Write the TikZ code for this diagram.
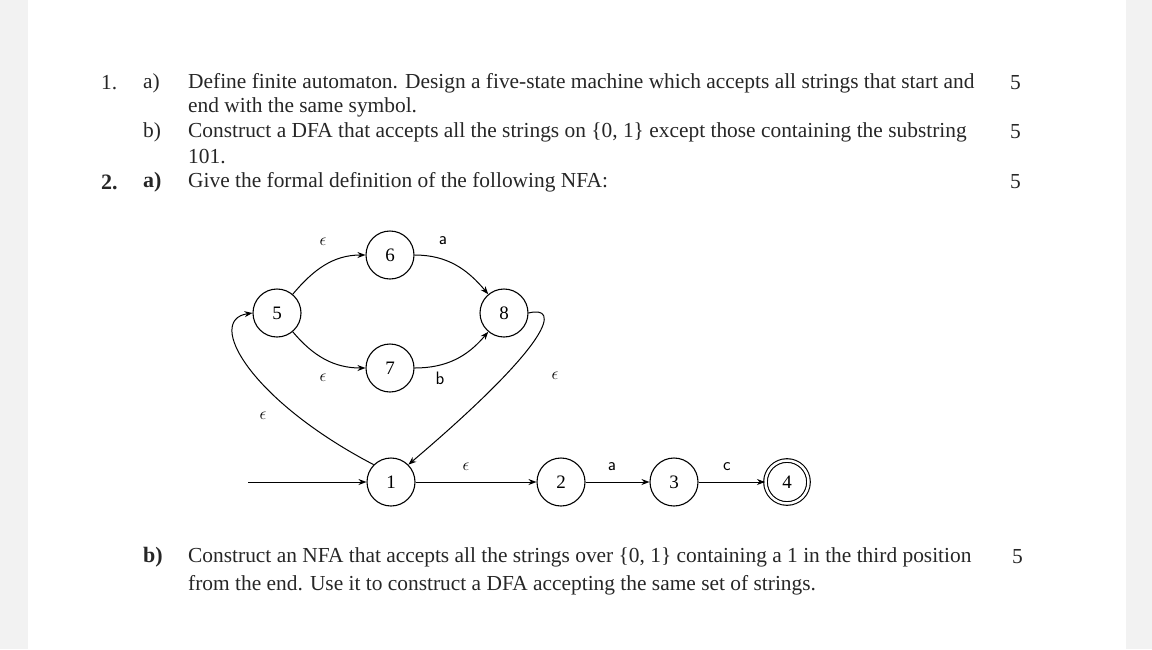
\documentclass[tikz,border=0pt]{standalone}
\usepackage{fontspec}
\setmainfont{Liberation Serif}
\usetikzlibrary{arrows.meta}
\begin{document}
\begin{tikzpicture}[x=1pt,y=-1pt,
  txt/.style={anchor=west,inner sep=0pt,font=\fontsize{21.4}{24}\selectfont,text=black!85},
  st/.style={circle,draw,line width=1.1pt,minimum size=48pt,inner sep=0pt,font=\fontsize{19}{21}\selectfont},
  acc/.style={st,double,double distance=2.5pt,minimum size=43pt},
  lab/.style={font=\fontsize{18}{20}\selectfont\sffamily},
  tr/.style={-{Stealth[length=8pt,width=6pt]},line width=1pt}]
\useasboundingbox (0,0) rectangle (1152,649);
\fill[black!5] (0,0) rectangle (28,649);
\fill[black!5] (1126,0) rectangle (1152,649);
% text
\node[txt] (n1) at (101,83) {1.};
\node[txt] (n1a) at (143,83) {a)};
\node[txt] (t1) at (188,83) {Define finite automaton. Design a five-state machine which accepts all strings that start and};
\node[txt] (t1b) at (188,107) {end with the same symbol.};
\node[txt] (m1) at (1010,83) {5};
\node[txt] (n1b) at (143,132) {b)};
\node[txt] (t2) at (188,132) {Construct a DFA that accepts all the strings on \{0, 1\} except those containing the substring};
\node[txt] (t2b) at (188,157) {101.};
\node[txt] (m2) at (1010,132) {5};
\node[txt,font=\fontsize{22}{24}\selectfont\bfseries] (n2) at (101,182) {2.};
\node[txt,font=\fontsize{22}{24}\selectfont\bfseries] (n2a) at (143,182) {a)};
\node[txt] (t3) at (188,182) {Give the formal definition of the following NFA:};
\node[txt] (m3) at (1010,182) {5};
\node[txt,font=\fontsize{22}{24}\selectfont\bfseries] (n2b) at (143,557) {b)};
\node[txt] (t4) at (188,557) {Construct an NFA that accepts all the strings over \{0, 1\} containing a 1 in the third position};
\node[txt] (m4) at (1012,557) {5};
\node[txt] (t4b) at (188,585) {from the end. Use it to construct a DFA accepting the same set of strings.};
% automaton
\node[st] (s5) at (277,313) {5};
\node[st] (s6) at (390,255) {6};
\node[st] (s7) at (390,368) {7};
\node[st] (s8) at (504,313) {8};
\node[st] (s1) at (391,482) {1};
\node[st] (s2) at (561,482) {2};
\node[st] (s3) at (674,482) {3};
\node[acc] (s4) at (787,482) {4};
\coordinate (start) at (248,482);
\draw[tr] (start) -- (s1);
\draw[tr] (s5) to[out=50,in=180] (s6);
\draw[tr] (s6) to[out=0,in=130] (s8);
\draw[tr] (s5) to[out=-50,in=180] (s7);
\draw[tr] (s7) to[out=0,in=-130] (s8);
\draw[tr] (s1) -- (s2);
\draw[tr] (s2) -- (s3);
\draw[tr] (s3) -- (s4);
\draw[tr] (s8.east) .. controls (560,305) and (555,340) .. (s1.north east);
\draw[tr] (s1.north west) .. controls (250,400) and (205,320) .. (s5.west);
\node[lab] (l56) at (323,242) {$\epsilon$};
\node[lab] (l68) at (443,241) {a};
\node[lab] (l57) at (323,378) {$\epsilon$};
\node[lab] (l78) at (440,378) {b};
\node[lab] (l81) at (555,376) {$\epsilon$};
\node[lab] (l15) at (263,416) {$\epsilon$};
\node[lab] (l12) at (466,467) {$\epsilon$};
\node[lab] (l23) at (612,467) {a};
\node[lab] (l34) at (727,467) {c};
\end{tikzpicture}
\end{document}
